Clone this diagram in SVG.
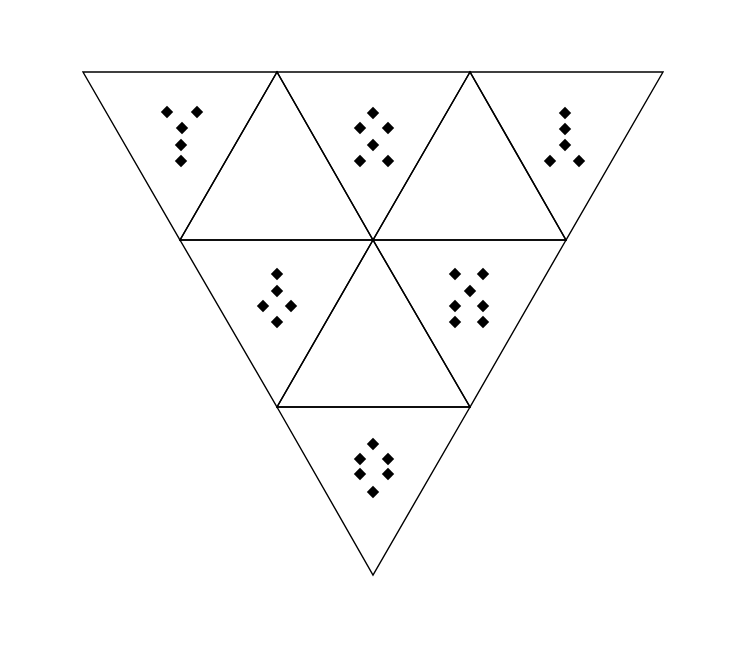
<svg xmlns="http://www.w3.org/2000/svg" width="748" height="645" viewBox="0 0 748 645">
<style>
.t{fill:none;stroke:#000;stroke-width:1.4;stroke-linejoin:miter}
.d{fill:#000}
</style>
<defs>
<path id="dm" d="M0,-6.2 L6.2,0 L0,6.2 L-6.2,0 Z"/>
</defs>
<rect width="748" height="645" fill="#fff"/>
<g id="tri-1">
<polygon class="t" points="83,72 277,72 180,240"/>
<g class="d"><use href="#dm" x="167" y="112"/><use href="#dm" x="197" y="112"/><use href="#dm" x="182" y="128"/><use href="#dm" x="181" y="145"/><use href="#dm" x="181" y="161"/></g>
</g>
<g id="tri-2">
<polygon class="t" points="277,72 180,240 373,240"/>
</g>
<g id="tri-3">
<polygon class="t" points="277,72 470,72 373,240"/>
<g class="d"><use href="#dm" x="373" y="113"/><use href="#dm" x="360" y="128"/><use href="#dm" x="388" y="128"/><use href="#dm" x="373" y="145"/><use href="#dm" x="360" y="161"/><use href="#dm" x="388" y="161"/></g>
</g>
<g id="tri-4">
<polygon class="t" points="470,72 373,240 566,240"/>
</g>
<g id="tri-5">
<polygon class="t" points="470,72 663,72 566,240"/>
<g class="d"><use href="#dm" x="565" y="113"/><use href="#dm" x="565" y="129"/><use href="#dm" x="565" y="145"/><use href="#dm" x="550" y="161"/><use href="#dm" x="579" y="161"/></g>
</g>
<g id="tri-6">
<polygon class="t" points="180,240 373,240 277,407"/>
<g class="d"><use href="#dm" x="277" y="274"/><use href="#dm" x="277" y="291"/><use href="#dm" x="263" y="306"/><use href="#dm" x="291" y="306"/><use href="#dm" x="277" y="322"/></g>
</g>
<g id="tri-7">
<polygon class="t" points="373,240 277,407 470,407"/>
</g>
<g id="tri-8">
<polygon class="t" points="373,240 566,240 470,407"/>
<g class="d"><use href="#dm" x="455" y="274"/><use href="#dm" x="483" y="274"/><use href="#dm" x="470" y="291"/><use href="#dm" x="455" y="306"/><use href="#dm" x="483" y="306"/><use href="#dm" x="455" y="322"/><use href="#dm" x="483" y="322"/></g>
</g>
<g id="tri-9">
<polygon class="t" points="277,407 470,407 373,575"/>
<g class="d"><use href="#dm" x="373" y="444"/><use href="#dm" x="360" y="459"/><use href="#dm" x="388" y="459"/><use href="#dm" x="360" y="474"/><use href="#dm" x="388" y="474"/><use href="#dm" x="373" y="492"/></g>
</g>
<g id="connectors"></g>
</svg>
